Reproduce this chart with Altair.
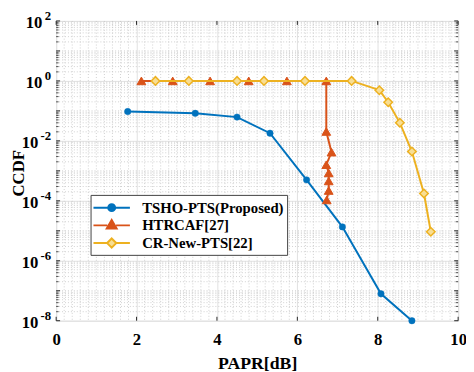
import altair as alt
import pandas as pd

# ---- data ----
series_names = ["TSHO-PTS(Proposed)", "HTRCAF[27]", "CR-New-PTS[22]"]
series_colors = ["#0072BD", "#D95319", "#EDB120"]
series_fills = ["#0072BD", "#D95319", "#F8DE93"]

tsho_x = [1.78, 3.46, 4.50, 5.32, 6.23, 7.12, 8.08, 8.85]
tsho_y = [0.095, 0.083, 0.062, 0.018, 5.0e-4, 1.35e-5, 7.9e-8, 1.0e-8]

htr_x = [2.12, 2.90, 3.83, 4.79, 5.74, 6.72, 6.72, 6.85, 6.72, 6.78, 6.78, 6.78, 6.73]
htr_y = [1.0, 1.0, 1.0, 1.0, 1.0, 1.0, 0.0205, 0.0042, 0.0016, 8.5e-4, 4.6e-4, 2.2e-4, 1.07e-4]

cr_x = [2.47, 3.30, 4.50, 5.17, 6.19, 7.35, 8.04, 8.26, 8.55, 8.85, 9.15, 9.32]
cr_y = [1.0, 1.0, 1.0, 1.0, 1.0, 1.0, 0.49, 0.195, 0.040, 0.0044, 1.75e-4, 9.3e-6]

x_ticks = [0, 2, 4, 6, 8, 10]
y_exps = [2, 0, -2, -4, -6, -8]
decades = list(range(-8, 2))
minor_mults = [2, 3, 4, 5, 6, 7, 8, 9]
x_minor_step = 0.2

FONT = "Liberation Serif"
W, H = 409, 305

def frame(xs, ys, name):
    return pd.DataFrame({"x": xs, "y": ys, "s": name, "i": list(range(len(xs)))})

d_tsho = frame(tsho_x, tsho_y, series_names[0])
d_htr = frame(htr_x, htr_y, series_names[1])
d_cr = frame(cr_x, cr_y, series_names[2])

y_major = [10.0 ** e for e in y_exps]
y_minor = [m * 10.0 ** d for d in decades for m in minor_mults] + [10.0 ** e for e in [1, -1, -3, -5, -7]]
x_minor = [round(k * x_minor_step, 1) for k in range(1, 50) if round(k * x_minor_step, 1) % 2 != 0]

xscale = alt.Scale(domain=[0, 10], nice=False, zero=False)
yscale = alt.Scale(type="log", domain=[1e-8, 1e2], nice=False)

xaxis = alt.Axis(values=x_ticks, format="d", grid=True, gridColor="#e0e0e0", gridWidth=1,
                 ticks=False, tickSize=0, domain=False,
                 labelFont=FONT, labelFontSize=17, labelFontWeight="bold", labelColor="black",
                 labelBaseline="alphabetic", labelPadding=24, labelFlush=False,
                 title="PAPR[dB]", titleFont=FONT, titleFontSize=18, titleFontWeight="bold",
                 titleColor="black", titleBaseline="alphabetic", titleY=49)
yaxis = alt.Axis(values=y_major, grid=True, gridColor="#e0e0e0", gridWidth=1,
                 ticks=False, tickSize=0, domain=False, labels=False,
                 title="CCDF", titleFont=FONT, titleFontSize=17, titleFontWeight="bold",
                 titleColor="black", titleAngle=-90, titleBaseline="alphabetic",
                 titleAlign="center", titleX=-33, titleY=H / 2 + 2)

X = lambda f="x": alt.X(f + ":Q", scale=xscale, axis=xaxis)
Y = lambda f="y": alt.Y(f + ":Q", scale=yscale, axis=yaxis)

# minor grids
g_ymin = alt.Chart(pd.DataFrame({"y": y_minor})).mark_rule(
    color="#c4c4c4", strokeWidth=0.8, strokeDash=[1, 2]).encode(y=Y())
g_xmin = alt.Chart(pd.DataFrame({"x": x_minor})).mark_rule(
    color="#c4c4c4", strokeWidth=0.8, strokeDash=[1, 2]).encode(x=X())

# inward ticks
tk = "#262626"
t_xb = alt.Chart(pd.DataFrame({"x": x_ticks})).mark_rule(color=tk, strokeWidth=1).encode(
    x=X(), y=alt.value(H), y2=alt.value(H - 4))
t_xt = alt.Chart(pd.DataFrame({"x": x_ticks})).mark_rule(color=tk, strokeWidth=1).encode(
    x=X(), y=alt.value(0), y2=alt.value(4))
yt_all = pd.DataFrame({"y": [10.0 ** d for d in range(-8, 3)]})
t_yl = alt.Chart(yt_all).mark_rule(color=tk, strokeWidth=1).encode(
    y=Y(), x=alt.value(0), x2=alt.value(4))
t_yr = alt.Chart(yt_all).mark_rule(color=tk, strokeWidth=1).encode(
    y=Y(), x=alt.value(W), x2=alt.value(W - 4))
ym_df = pd.DataFrame({"y": [m * 10.0 ** d for d in decades for m in minor_mults]})
t_yml = alt.Chart(ym_df).mark_rule(color=tk, strokeWidth=0.8).encode(
    y=Y(), x=alt.value(0), x2=alt.value(2.5))
t_ymr = alt.Chart(ym_df).mark_rule(color=tk, strokeWidth=0.8).encode(
    y=Y(), x=alt.value(W), x2=alt.value(W - 2.5))

def series(df, color, shape, size, fill, stroke_w):
    line = alt.Chart(df).mark_line(color=color, strokeWidth=2).encode(
        x=X(), y=Y(), order=alt.Order("i:Q"))
    pts = alt.Chart(df).mark_point(shape=shape, size=size, filled=False, fill=fill,
                                   stroke=color, strokeWidth=stroke_w, opacity=1).encode(x=X(), y=Y())
    return [line, pts]

layers_data = (series(d_tsho, series_colors[0], "circle", 42, series_fills[0], 0.5)
               + series(d_htr, series_colors[1], "triangle-up", 80, series_fills[1], 1)
               + series(d_cr, series_colors[2], "diamond", 75, series_fills[2], 1.5))

# y tick labels: "10" with superscript exponents
lab = pd.DataFrame({"y": y_major, "e": [str(e) for e in y_exps], "neg": [e < 0 for e in y_exps]})
txt_style = dict(font=FONT, fontWeight="bold", color="black", baseline="middle", align="right")
ten_neg = alt.Chart(lab).transform_filter("datum.neg").mark_text(
    fontSize=17, dy=2, **txt_style).encode(y=Y(), x=alt.value(-18), text=alt.value("10"))
ten_pos = alt.Chart(lab).transform_filter("!datum.neg").mark_text(
    fontSize=17, dy=2, **txt_style).encode(y=Y(), x=alt.value(-14), text=alt.value("10"))
exps = alt.Chart(lab).mark_text(fontSize=13, dy=-5, **txt_style).encode(
    y=Y(), x=alt.value(-5), text="e:N")

# legend (from a clipped dummy layer); symbol box 18px, paths reach beyond it
paths = [
    "M-2.06,0H-0.39M0.39,0H2.06M-0.39,0A0.39,0.39 0 1,0 0.39,0A0.39,0.39 0 1,0 -0.39,0Z",
    "M-2.06,0H-0.5M0.5,0H2.06M0,-0.62L0.56,0.36L-0.56,0.36Z",
    "M-2.06,0H-0.52M0.52,0H2.06M0,-0.52L0.52,0L0,0.52L-0.52,0Z",
]
leg_df = pd.DataFrame({"s": series_names, "x": [-100] * 3, "y": [1.0] * 3})
legend = alt.Legend(title=None, orient="none", legendX=35, legendY=177,
                    symbolSize=324, symbolStrokeWidth=2, symbolOffset=8.5,
                    labelFont=FONT, labelFontSize=15, labelFontWeight="bold", labelColor="black",
                    labelLimit=400, labelOffset=21, rowPadding=0, padding=3,
                    strokeColor="#404040", fillColor="white")
leg = alt.Chart(leg_df).mark_point(clip=True, filled=False, strokeWidth=2, opacity=1).encode(
    x=X(), y=Y(),
    color=alt.Color("s:N", scale=alt.Scale(domain=series_names, range=series_colors), legend=legend),
    fill=alt.Fill("s:N", scale=alt.Scale(domain=series_names, range=series_fills)),
    shape=alt.Shape("s:N", scale=alt.Scale(domain=series_names, range=paths)),
)

chart = alt.layer(
    g_ymin, g_xmin, t_xb, t_xt, t_yl, t_yr, t_yml, t_ymr,
    *layers_data, ten_neg, ten_pos, exps, leg
).properties(
    width=W, height=H,
    autosize=alt.AutoSizeParams(type="none"),
    padding={"left": 49, "top": 10, "right": 8, "bottom": 49},
).configure_view(stroke="#262626", strokeWidth=1).configure(background="white")

chart.save("out.html", embed_options={"renderer": "svg", "actions": False})
